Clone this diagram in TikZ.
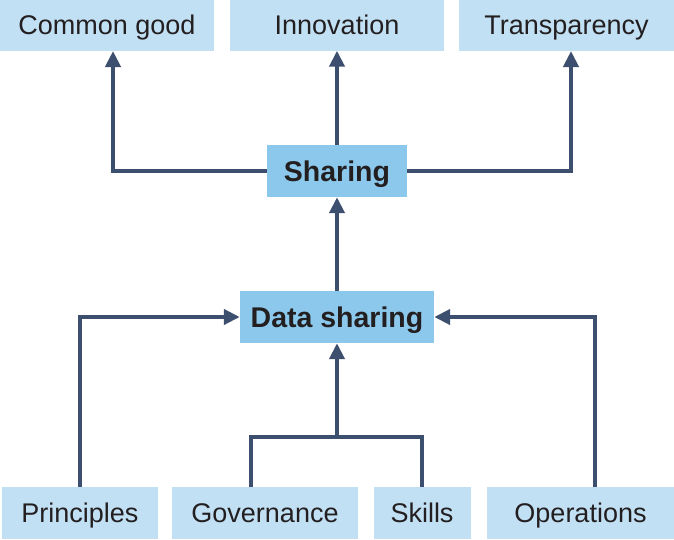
\documentclass[tikz,border=0pt]{standalone}
\usepackage{fontspec}
\setmainfont{Liberation Sans}
\usetikzlibrary{arrows.meta}
\definecolor{lightbox}{HTML}{C2E0F4}
\definecolor{midbox}{HTML}{8BC8EB}
\definecolor{linecol}{HTML}{3D4F6E}
\definecolor{txt}{HTML}{231F20}
\begin{document}
\begin{tikzpicture}[x=1pt,y=-1pt,
  basebox/.style={inner sep=0pt,text=txt,text depth=0pt},
  lbox/.style={basebox,fill=lightbox,minimum height=51pt,text height=19.3pt,font=\fontsize{27}{30}\selectfont},
  mbox/.style={basebox,fill=midbox,minimum height=52pt,text height=20.4pt,font=\fontsize{28.5}{32}\selectfont\bfseries},
  conn/.style={draw=linecol,line width=4pt},
  arr/.style={conn,-{Triangle[length=16pt,width=15pt]}}]
\useasboundingbox (0,0) rectangle (674,539);
\node[lbox,minimum width=214pt] (cg) at (107,25) {Common good};
\node[lbox,minimum width=214pt] (inn) at (337,25) {Innovation};
\node[lbox,minimum width=215pt] (tr) at (566.5,25) {Transparency};
\node[mbox,minimum width=140pt] (sh) at (337,171) {Sharing};
\node[mbox,minimum width=194pt] (ds) at (337,317) {Data sharing};
\node[lbox,minimum width=156pt,minimum height=52pt] (pr) at (80,513) {Principles};
\node[lbox,minimum width=186pt,minimum height=52pt] (gov) at (265,513) {Governance};
\node[lbox,minimum width=97pt,minimum height=52pt] (sk) at (422,513) {Skills};
\node[lbox,minimum width=187pt,minimum height=52pt] (op) at (580.5,513) {Operations};
\coordinate (cgx) at (113,51);
\coordinate (trx) at (571,51);
\coordinate (govx) at (251,487);
\coordinate (opx) at (595,487);
\coordinate (join) at (337,437);
\draw[arr] (sh.west) -| (cgx);
\draw[arr] (sh.north) -- (inn.south);
\draw[arr] (sh.east) -| (trx);
\draw[arr] (ds.north) -- (sh.south);
\draw[arr] (pr.north) |- (ds.west);
\draw[arr] (opx) |- (ds.east);
\draw[conn] (govx) |- (join) -| (sk.north);
\draw[arr] (join) -- (ds.south);
\end{tikzpicture}
\end{document}
